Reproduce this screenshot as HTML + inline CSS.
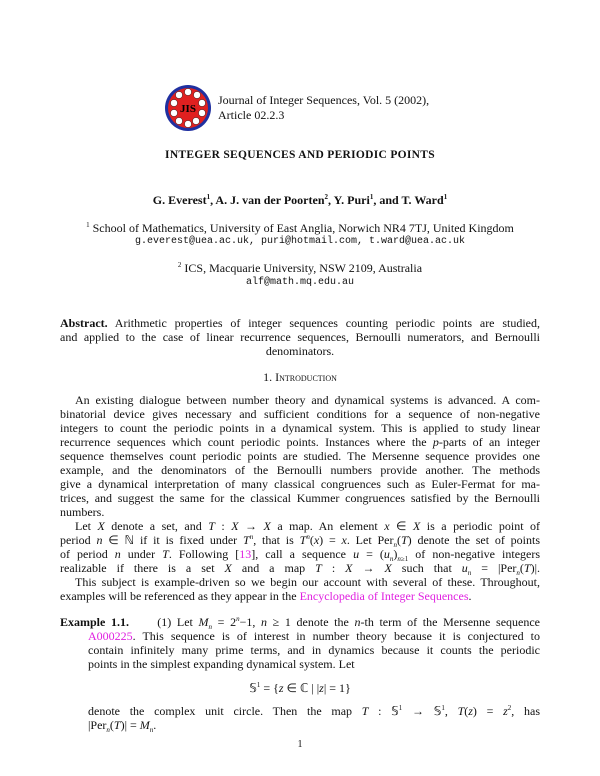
<!DOCTYPE html>
<html><head><meta charset="utf-8"><style>
body{margin:0;background:#fff;}
#p{position:relative;width:600px;height:776px;font-family:"Liberation Serif",serif;font-size:12px;color:#111;}
.l{position:absolute;left:60px;width:480px;text-align:justify;text-align-last:justify;white-space:nowrap;line-height:14px;height:14px;}
.c{position:absolute;left:0;width:600px;text-align:center;line-height:14px;height:14px;}
.m{font-family:"Liberation Mono",monospace;font-size:10px;}
.pk{color:#e020e0;}
i{font-style:italic;}
sup,sub{font-size:7px;line-height:0;vertical-align:baseline;position:relative;}
sup{top:-5px;}
sub{top:3px;}
</style></head><body><div id="p">
<svg style="position:absolute;left:164px;top:84px" width="48" height="48" viewBox="0 0 48 48">
<circle cx="24" cy="24" r="23" fill="#2030a0"/><circle cx="24" cy="24" r="20" fill="#e02020"/>
<g fill="#fff" stroke="#000" stroke-width=".4">
<circle cx="24" cy="8" r="3.5"/><circle cx="33" cy="11" r="3.5"/><circle cx="38" cy="19" r="3.5"/><circle cx="38" cy="29" r="3.5"/><circle cx="32" cy="37" r="3.5"/><circle cx="24" cy="40" r="3.5"/><circle cx="15" cy="37" r="3.5"/><circle cx="10" cy="29" r="3.5"/><circle cx="10" cy="19" r="3.5"/><circle cx="15" cy="11" r="3.5"/></g>
<text x="24" y="28" font-size="11" font-weight="bold" text-anchor="middle" font-family="Liberation Serif">JIS</text></svg>
<div style="position:absolute;left:218px;top:93px;line-height:15px;font-size:12px">Journal of Integer Sequences, Vol. 5 (2002),<br>Article 02.2.3</div>
<div class="c" style="top:148px;font-size:11.5px;font-weight:bold;letter-spacing:.3px">INTEGER SEQUENCES AND PERIODIC POINTS</div>
<div class="c" style="top:193px;font-weight:bold">G. Everest<sup>1</sup>, A. J. van der Poorten<sup>2</sup>, Y. Puri<sup>1</sup>, and T. Ward<sup>1</sup></div>
<div class="c" style="top:221px"><sup>1</sup> School of Mathematics, University of East Anglia, Norwich NR4 7TJ, United Kingdom</div>
<div class="c m" style="top:235px">g.everest@uea.ac.uk, puri@hotmail.com, t.ward@uea.ac.uk</div>
<div class="c" style="top:261px"><sup>2</sup> ICS, Macquarie University, NSW 2109, Australia</div>
<div class="c m" style="top:276px">alf@math.mq.edu.au</div>
<div class="l" style="top:316px"><b>Abstract.</b> Arithmetic properties of integer sequences counting periodic points are studied,</div>
<div class="l" style="top:330px">and applied to the case of linear recurrence sequences, Bernoulli numerators, and Bernoulli</div>
<div class="c" style="top:344px">denominators.</div>
<div class="c" style="top:370px;font-variant:small-caps">1. Introduction</div>
<div class="l" style="top:393px;left:75px;width:465px">An existing dialogue between number theory and dynamical systems is advanced. A com-</div>
<div class="l" style="top:407px">binatorial device gives necessary and sufficient conditions for a sequence of non-negative</div>
<div class="l" style="top:421px">integers to count the periodic points in a dynamical system. This is applied to study linear</div>
<div class="l" style="top:435px">recurrence sequences which count periodic points. Instances where the <i>p</i>-parts of an integer</div>
<div class="l" style="top:449px">sequence themselves count periodic points are studied. The Mersenne sequence provides one</div>
<div class="l" style="top:463px">example, and the denominators of the Bernoulli numbers provide another. The methods</div>
<div class="l" style="top:477px">give a dynamical interpretation of many classical congruences such as Euler-Fermat for ma-</div>
<div class="l" style="top:491px">trices, and suggest the same for the classical Kummer congruences satisfied by the Bernoulli</div>
<div class="l" style="top:505px;text-align-last:left">numbers.</div>
<div class="l" style="top:519px;left:75px;width:465px">Let <i>X</i> denote a set, and <i>T</i> : <i>X</i> → <i>X</i> a map. An element <i>x</i> ∈ <i>X</i> is a periodic point of</div>
<div class="l" style="top:533px">period <i>n</i> ∈ ℕ if it is fixed under <i>T<sup>n</sup></i>, that is <i>T<sup>n</sup></i>(<i>x</i>) = <i>x</i>. Let Per<sub><i>n</i></sub>(<i>T</i>) denote the set of points</div>
<div class="l" style="top:547px">of period <i>n</i> under <i>T</i>. Following [<span class="pk">13</span>], call a sequence <i>u</i> = (<i>u<sub>n</sub></i>)<sub><i>n</i>≥1</sub> of non-negative integers</div>
<div class="l" style="top:561px">realizable if there is a set <i>X</i> and a map <i>T</i> : <i>X</i> → <i>X</i> such that <i>u<sub>n</sub></i> = |Per<sub><i>n</i></sub>(<i>T</i>)|.</div>
<div class="l" style="top:575px;left:75px;width:465px">This subject is example-driven so we begin our account with several of these. Throughout,</div>
<div class="l" style="top:589px;text-align-last:left">examples will be referenced as they appear in the <span class="pk">Encyclopedia of Integer Sequences</span>.</div>
<div class="l" style="top:615px"><b>Example 1.1.</b> &nbsp;&nbsp;&nbsp; (1) Let <i>M<sub>n</sub></i> = 2<sup><i>n</i></sup>−1, <i>n</i> ≥ 1 denote the <i>n</i>-th term of the Mersenne sequence</div>
<div class="l" style="top:629px;left:88px;width:452px"><span class="pk">A000225</span>. This sequence is of interest in number theory because it is conjectured to</div>
<div class="l" style="top:643px;left:88px;width:452px">contain infinitely many prime terms, and in dynamics because it counts the periodic</div>
<div class="l" style="top:657px;left:88px;width:452px;text-align-last:left">points in the simplest expanding dynamical system. Let</div>
<div class="c" style="top:681px">𝕊<sup>1</sup> = {<i>z</i> ∈ ℂ | |<i>z</i>| = 1}</div>
<div class="l" style="top:704px;left:88px;width:452px">denote the complex unit circle. Then the map <i>T</i> : 𝕊<sup>1</sup> → 𝕊<sup>1</sup>, <i>T</i>(<i>z</i>) = <i>z</i><sup>2</sup>, has</div>
<div class="l" style="top:718px;left:88px;width:452px;text-align-last:left">|Per<sub><i>n</i></sub>(<i>T</i>)| = <i>M<sub>n</sub></i>.</div>
<div class="c" style="top:738px;font-size:10px">1</div>
</div></body></html>
